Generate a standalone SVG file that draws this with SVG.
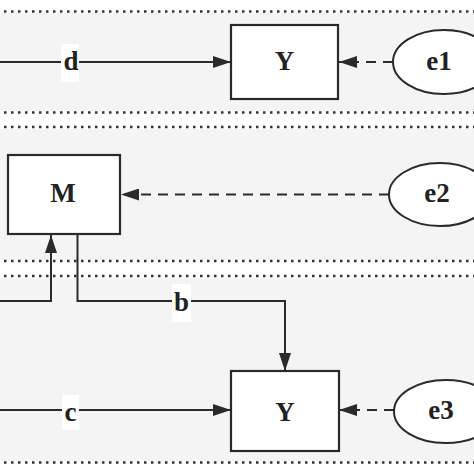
<svg xmlns="http://www.w3.org/2000/svg" width="474" height="474" viewBox="0 0 474 474">
<style>
.band{fill:#f4f4f4;stroke:none}
.dot{stroke:#333;stroke-width:2.5;stroke-dasharray:2.5 4.5;fill:none}
.box{fill:#fff;stroke:#2a2a2a;stroke-width:2.2}
.ell{fill:#fff;stroke:#2a2a2a;stroke-width:2}
.t{font-family:"Liberation Serif","Times New Roman",serif;font-weight:bold;font-size:27px;fill:#222;text-anchor:middle}
.ln{fill:none;stroke:#2a2a2a;stroke-width:2}
.dash{fill:none;stroke:#2a2a2a;stroke-width:2.2;stroke-dasharray:10 7}
.lbg{fill:#fff;stroke:none}
</style>
<defs>
<marker id="ah" viewBox="0 0 18 12" refX="18" refY="6" markerWidth="18" markerHeight="12" markerUnits="userSpaceOnUse" orient="auto">
<path d="M0,0 L18,6 L0,12 Z" fill="#2a2a2a"/>
</marker>
</defs>
<rect width="474" height="474" fill="#fff"/>
<g id="bands">
<rect class="band" x="0" y="13" width="474" height="98"/>
<rect class="band" x="0" y="129" width="474" height="131"/>
<rect class="band" x="0" y="278" width="474" height="183"/>
<line class="dot" x1="4" y1="11.5" x2="474" y2="11.5"/>
<line class="dot" x1="4" y1="112.5" x2="474" y2="112.5"/>
<line class="dot" x1="4" y1="127" x2="474" y2="127"/>
<line class="dot" x1="4" y1="261" x2="474" y2="261"/>
<line class="dot" x1="4" y1="276" x2="474" y2="276"/>
<line class="dot" x1="4" y1="462.5" x2="474" y2="462.5"/>
</g>
<g id="connectors">
<line class="ln" x1="0" y1="62" x2="231" y2="62" marker-end="url(#ah)"/>
<line class="dash" x1="393" y1="62" x2="339" y2="62" marker-end="url(#ah)"/>
<line class="dash" x1="389" y1="194.5" x2="121" y2="194.5" marker-end="url(#ah)"/>
<polyline class="ln" points="0,301 51,301 51,235" marker-end="url(#ah)"/>
<polyline class="ln" points="77.5,234 77.5,301 285,301 285,371" marker-end="url(#ah)"/>
<line class="ln" x1="0" y1="410" x2="231" y2="410" marker-end="url(#ah)"/>
<line class="dash" x1="394" y1="410" x2="339" y2="410" marker-end="url(#ah)"/>
<rect class="lbg" x="61" y="44" width="18" height="38"/>
<text class="t" x="71" y="70">d</text>
<rect class="lbg" x="172" y="284" width="19" height="38"/>
<text class="t" x="181.5" y="311">b</text>
<rect class="lbg" x="62" y="395" width="17" height="35"/>
<text class="t" x="70.5" y="421">c</text>
</g>
<g id="Y1">
<rect class="box" x="231" y="25" width="107" height="74"/>
<text class="t" x="284.5" y="69.5">Y</text>
</g>
<g id="e1">
<ellipse class="ell" cx="444" cy="62" rx="51" ry="32"/>
<text class="t" x="439" y="69.5">e1</text>
</g>
<g id="M">
<rect class="box" x="8" y="155" width="112" height="79"/>
<text class="t" x="63" y="202">M</text>
</g>
<g id="e2">
<ellipse class="ell" cx="440" cy="194.5" rx="51" ry="31.5"/>
<text class="t" x="437" y="202">e2</text>
</g>
<g id="Y2">
<rect class="box" x="231" y="371" width="108" height="80"/>
<text class="t" x="285" y="420.5">Y</text>
</g>
<g id="e3">
<ellipse class="ell" cx="446" cy="411.5" rx="52" ry="31.5"/>
<text class="t" x="441" y="419">e3</text>
</g>
</svg>
